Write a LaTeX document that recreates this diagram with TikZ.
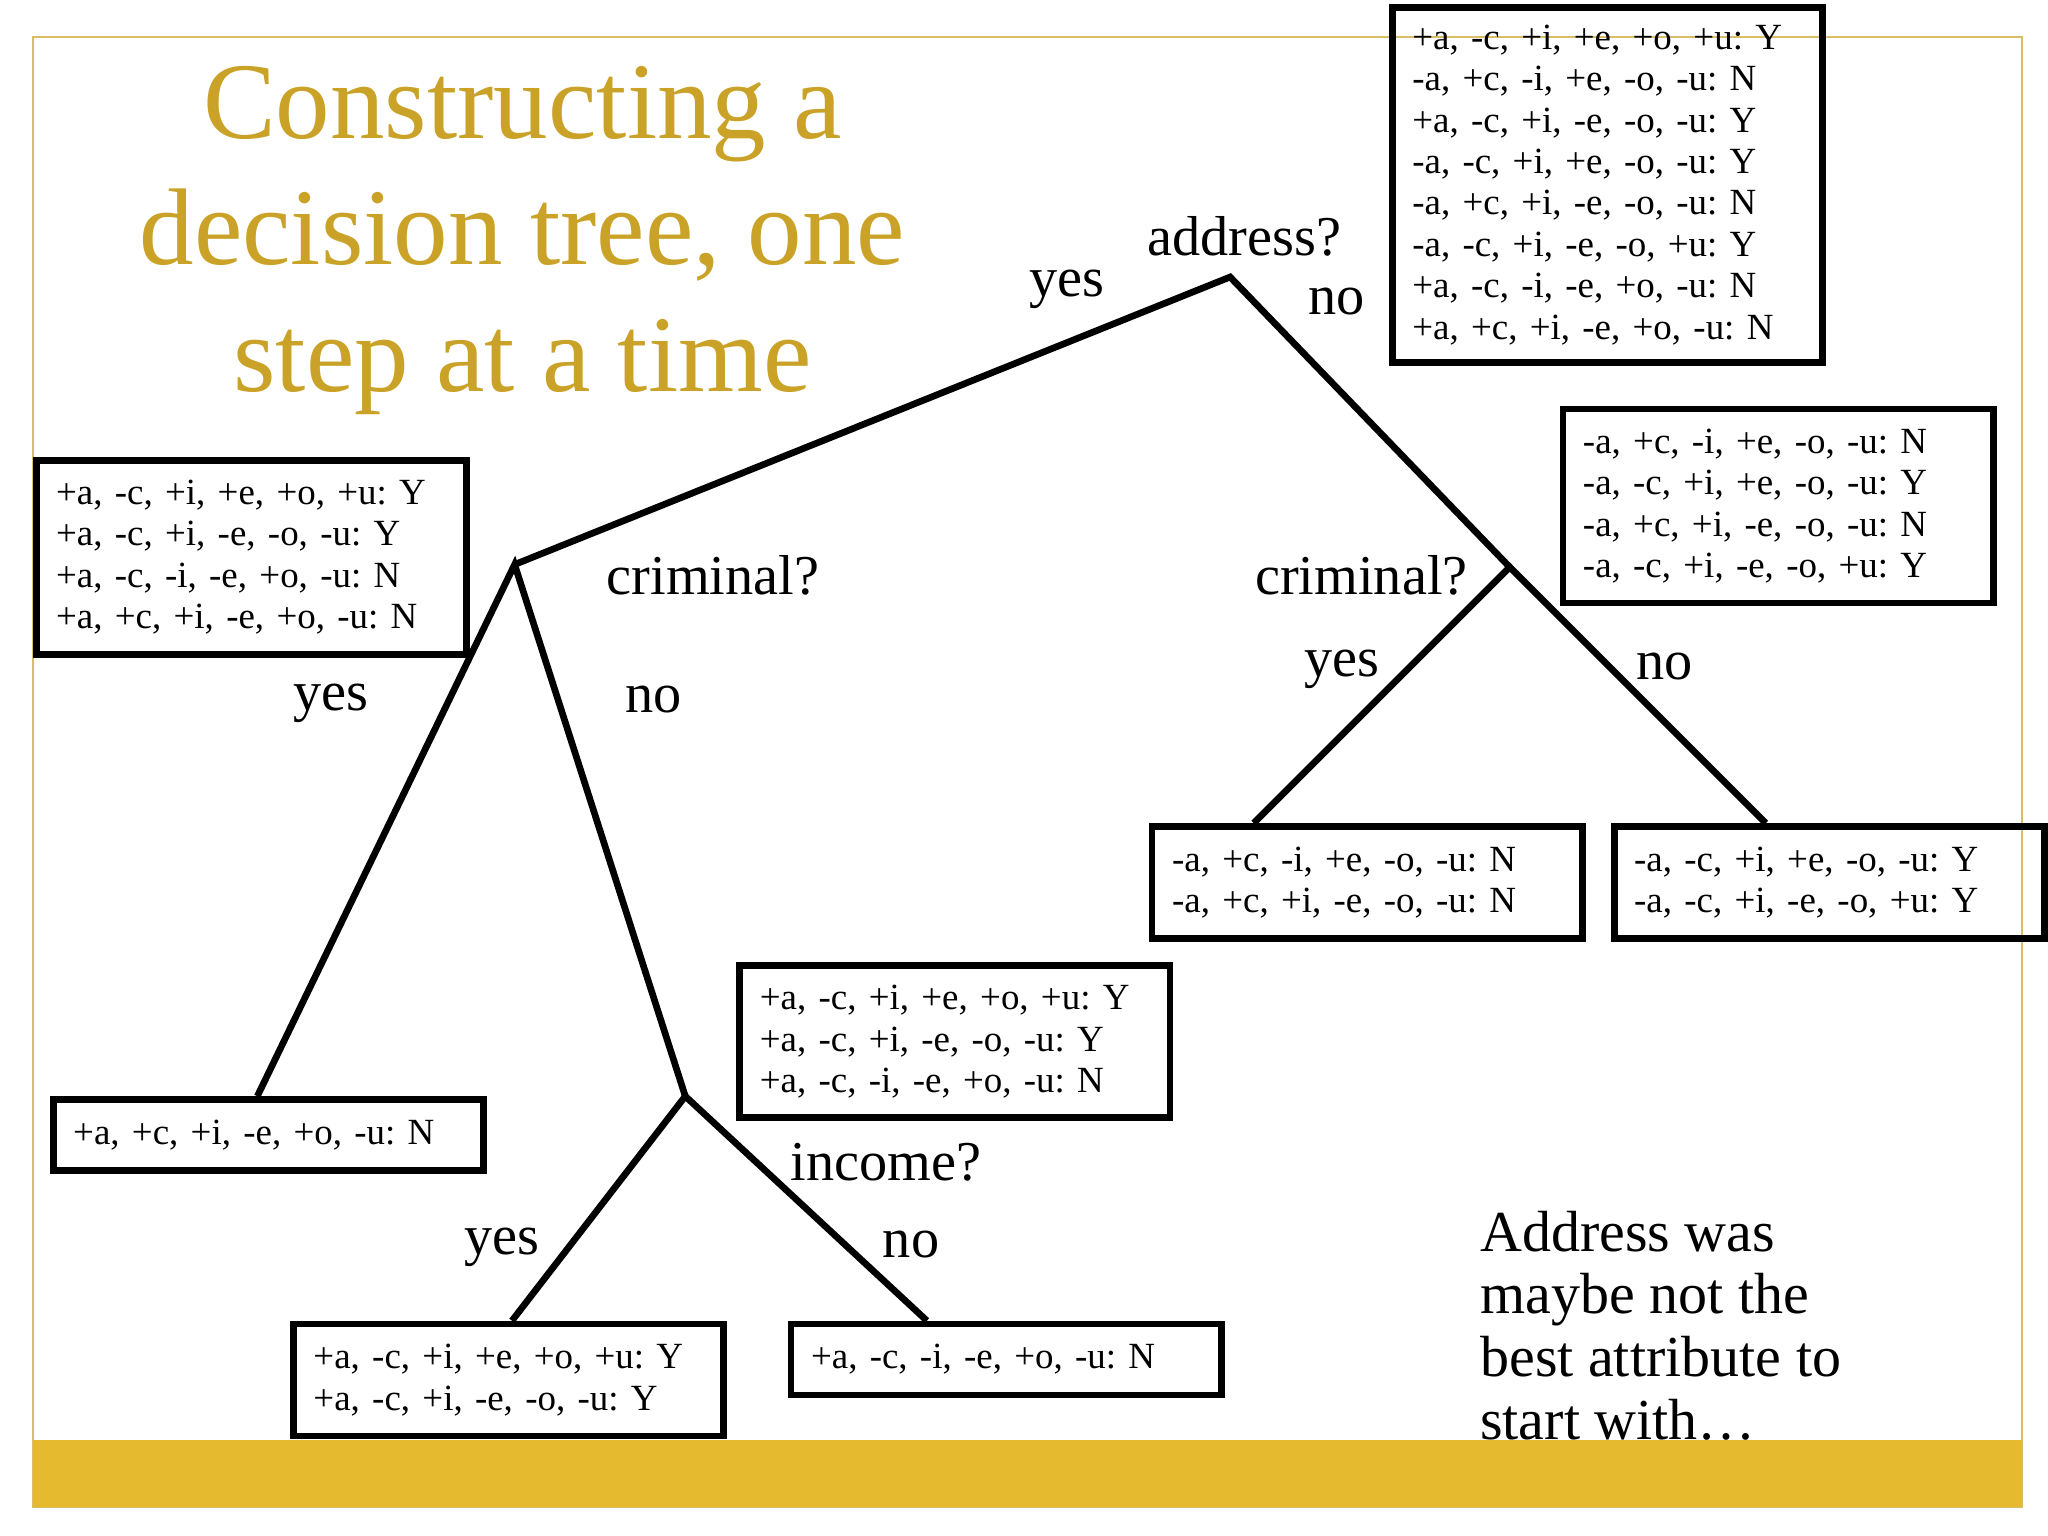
\documentclass[tikz,border=0pt]{standalone}
\usepackage{fontspec}
\setmainfont{Liberation Serif}
\usetikzlibrary{positioning}
\definecolor{gold}{HTML}{C9A227}
\definecolor{barcol}{HTML}{E6BA2E}
\frenchspacing
\begin{document}
\begin{tikzpicture}[x=0.01313cm,y=-0.01313cm]
  \tikzset{
    tbl/.style={draw,line width=1.9pt,anchor=north west,align=left,
      inner xsep=0.2cm,text width=3.9cm,font=\fontsize{10.5}{11.8}\selectfont},
    lbl/.style={font=\fontsize{16}{19}\selectfont},
    br/.style={line width=1.9pt}
  }
  \useasboundingbox (0,0) rectangle (1560,1170);
  % frame and bar
  \draw[gold!70,line width=0.6pt] (25,28) rectangle (1540,1148);
  \fill[barcol] (25,1097) rectangle (1540,1148);
  % title
  \node[text=gold,align=center,font=\fontsize{31}{36}\selectfont] (title) at (398,183)
    {Constructing a\\decision tree, one\\step at a time};
  % data boxes
  \node[tbl,minimum height=3.55cm] (all) at (1058,3) {+a, -c, +i, +e, +o, +u: Y\\-a, +c, -i, +e, -o, -u: N\\+a, -c, +i, -e, -o, -u: Y\\-a, -c, +i, +e, -o, -u: Y\\-a, +c, +i, -e, -o, -u: N\\-a, -c, +i, -e, -o, +u: Y\\+a, -c, -i, -e, +o, -u: N\\+a, +c, +i, -e, +o, -u: N};
  \node[tbl,minimum height=1.94cm] (noaddr) at (1188,309) {-a, +c, -i, +e, -o, -u: N\\-a, -c, +i, +e, -o, -u: Y\\-a, +c, +i, -e, -o, -u: N\\-a, -c, +i, -e, -o, +u: Y};
  \node[tbl,minimum height=1.94cm] (yesaddr) at (25,348) {+a, -c, +i, +e, +o, +u: Y\\+a, -c, +i, -e, -o, -u: Y\\+a, -c, -i, -e, +o, -u: N\\+a, +c, +i, -e, +o, -u: N};
  \node[tbl,minimum height=1.12cm] (nocrimy) at (875,627) {-a, +c, -i, +e, -o, -u: N\\-a, +c, +i, -e, -o, -u: N};
  \node[tbl,minimum height=1.12cm] (nocrimn) at (1227,627) {-a, -c, +i, +e, -o, -u: Y\\-a, -c, +i, -e, -o, +u: Y};
  \node[tbl,minimum height=1.52cm] (yescrimn) at (561,733) {+a, -c, +i, +e, +o, +u: Y\\+a, -c, +i, -e, -o, -u: Y\\+a, -c, -i, -e, +o, -u: N};
  \node[tbl,minimum height=0.71cm] (yescrimy) at (38,835) {+a, +c, +i, -e, +o, -u: N};
  \node[tbl,minimum height=1.12cm] (incy) at (221,1006) {+a, -c, +i, +e, +o, +u: Y\\+a, -c, +i, -e, -o, -u: Y};
  \node[tbl,minimum height=0.71cm] (incn) at (600,1006) {+a, -c, -i, -e, +o, -u: N};
  % tree junctions
  \coordinate (addr) at (937,211);
  \coordinate (crimL) at (392,430);
  \coordinate (crimR) at (1150,432);
  \coordinate (inc) at (522,835);
  \coordinate (e1) at (196,835);
  \coordinate (e2) at (955,627);
  \coordinate (e3) at (1345,627);
  \coordinate (e4) at (390,1006);
  \coordinate (e5) at (706,1006);
  \draw[br,line join=miter] (crimL) -- (addr) -- (crimR);
  \draw[br] (e1) -- (crimL) -- (inc);
  \draw[br] (e2) -- (crimR) -- (e3);
  \draw[br] (e4) -- (inc) -- (e5);
  % labels
  \node[lbl] (laddr) at (948,180) {address?};
  \node[lbl] (l1) at (813,220) {yes};
  \node[lbl] (l2) at (1018,230) {no};
  \node[lbl] (lcl) at (543,438) {criminal?};
  \node[lbl] (lcr) at (1037,438) {criminal?};
  \node[lbl] (l3) at (252,536) {yes};
  \node[lbl] (l4) at (498,533) {no};
  \node[lbl] (l5) at (1022,510) {yes};
  \node[lbl] (l6) at (1268,508) {no};
  \node[lbl] (linc) at (675,885) {income?};
  \node[lbl] (l7) at (382,950) {yes};
  \node[lbl] (l8) at (694,948) {no};
  % note
  \node[anchor=north west,align=left,inner sep=0pt,font=\fontsize{16.5}{17.8}\selectfont] (note) at (1127,922)
    {Address was\\maybe not the\\best attribute to\\start with\dots};
\end{tikzpicture}
\end{document}
